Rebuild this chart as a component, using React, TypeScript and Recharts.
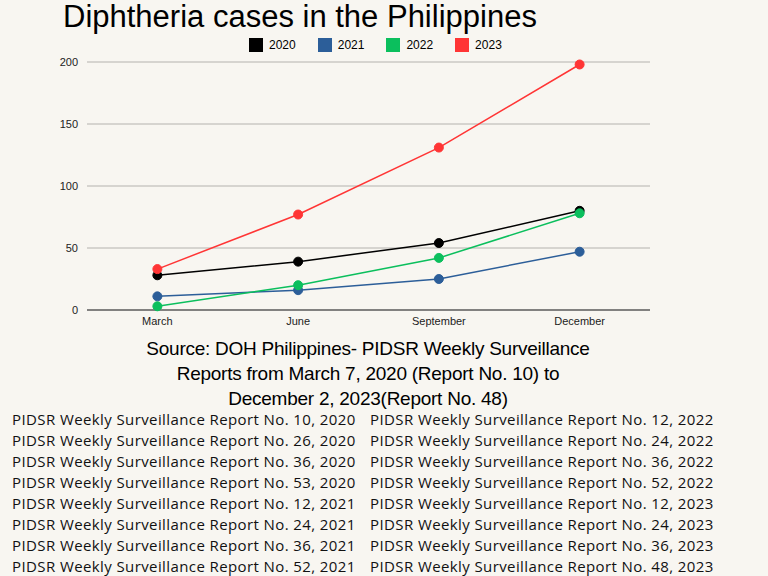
import React from "react";
import { LineChart, Line, XAxis, YAxis, CartesianGrid } from "recharts";

// Quarterly diphtheria case counts, by year
const months = ["March", "June", "September", "December"];
const cases2020 = [28, 39, 54, 80];
const cases2021 = [11, 16, 25, 47];
const cases2022 = [3, 20, 42, 78];
const cases2023 = [33, 77, 131, 198];
const yTicks = [0, 50, 100, 150, 200];

const seriesKeys = ["2020", "2021", "2022", "2023"];
const seriesColors: Record<string, string> = {
  "2020": "#000000",
  "2021": "#2c5e99",
  "2022": "#0bbf5d",
  "2023": "#ff3535",
};

const sourceLines = [
  "Source: DOH Philippines- PIDSR Weekly Surveillance",
  "Reports from March 7, 2020 (Report No. 10) to",
  "December 2, 2023(Report No. 48)",
];

const reportsLeft = [
  "PIDSR Weekly Surveillance Report No. 10, 2020",
  "PIDSR Weekly Surveillance Report No. 26, 2020",
  "PIDSR Weekly Surveillance Report No. 36, 2020",
  "PIDSR Weekly Surveillance Report No. 53, 2020",
  "PIDSR Weekly Surveillance Report No. 12, 2021",
  "PIDSR Weekly Surveillance Report No. 24, 2021",
  "PIDSR Weekly Surveillance Report No. 36, 2021",
  "PIDSR Weekly Surveillance Report No. 52, 2021",
];
const reportsRight = [
  "PIDSR Weekly Surveillance Report No. 12, 2022",
  "PIDSR Weekly Surveillance Report No. 24, 2022",
  "PIDSR Weekly Surveillance Report No. 36, 2022",
  "PIDSR Weekly Surveillance Report No. 52, 2022",
  "PIDSR Weekly Surveillance Report No. 12, 2023",
  "PIDSR Weekly Surveillance Report No. 24, 2023",
  "PIDSR Weekly Surveillance Report No. 36, 2023",
  "PIDSR Weekly Surveillance Report No. 48, 2023",
];

const data = months.map((m, i) => ({
  month: m,
  "2020": cases2020[i],
  "2021": cases2021[i],
  "2022": cases2022[i],
  "2023": cases2023[i],
}));

const BG = "#f8f6f1";
const sans = "'Liberation Sans', Arial, sans-serif";

export default function App() {
  return (
    <div
      style={{
        position: "absolute",
        left: 0,
        top: 0,
        width: 768,
        height: 576,
        background: BG,
        overflow: "hidden",
      }}
    >
      <div
        style={{
          position: "absolute",
          left: 63,
          top: 1,
          fontFamily: sans,
          fontSize: 31,
          lineHeight: "31px",
          color: "#000",
          whiteSpace: "nowrap",
        }}
      >
        Diphtheria cases in the Philippines
      </div>

      {/* legend */}
      <div
        style={{
          position: "absolute",
          left: 249,
          top: 38,
          display: "flex",
          fontFamily: sans,
          fontSize: 12,
          lineHeight: "14px",
        }}
      >
        {seriesKeys.map((k) => (
          <div key={k} style={{ display: "flex", alignItems: "center", marginRight: 22 }}>
            <div style={{ width: 14, height: 14, background: seriesColors[k], marginRight: 6 }} />
            <span>{k}</span>
          </div>
        ))}
      </div>

      <div style={{ position: "absolute", left: 0, top: 0 }}>
        <LineChart
          width={768}
          height={340}
          data={data}
          margin={{ top: 62, right: 118, bottom: 0, left: 47 }}
        >
          <CartesianGrid vertical={false} stroke="#b4b2ae" strokeWidth={1} />
          <XAxis
            dataKey="month"
            scale="band"
            height={30}
            tickSize={0}
            tickMargin={7}
            axisLine={{ stroke: "#666", strokeWidth: 1.5 }}
            tick={{ fontSize: 11, fill: "#222", fontFamily: sans }}
          />
          <YAxis
            width={40}
            domain={[0, 200]}
            ticks={yTicks}
            tickSize={0}
            tickMargin={9}
            axisLine={false}
            tick={{ fontSize: 11, fill: "#222", fontFamily: sans }}
          />
          {seriesKeys.map((k) => (
            <Line
              key={k}
              type="linear"
              dataKey={k}
              stroke={seriesColors[k]}
              strokeWidth={1.5}
              dot={{ r: 4.5, fill: seriesColors[k], stroke: seriesColors[k], strokeWidth: 1 }}
              isAnimationActive={false}
            />
          ))}
        </LineChart>
      </div>

      {/* source note */}
      <div
        style={{
          position: "absolute",
          left: 0,
          top: 336,
          width: 736,
          textAlign: "center",
          fontFamily: sans,
          fontSize: 19,
          letterSpacing: -0.25,
          lineHeight: "25px",
          color: "#000",
        }}
      >
        {sourceLines.map((s) => (
          <div key={s}>{s}</div>
        ))}
      </div>

      {/* report list */}
      {[reportsLeft, reportsRight].map((col, ci) => (
        <div
          key={ci}
          style={{
            position: "absolute",
            left: ci === 0 ? 12 : 370,
            top: 409,
            fontFamily: "'Open Sans', sans-serif",
            fontSize: 15,
            letterSpacing: 0.4,
            lineHeight: "21px",
            color: "#111",
            whiteSpace: "nowrap",
          }}
        >
          {col.map((r) => (
            <div key={r}>{r}</div>
          ))}
        </div>
      ))}
    </div>
  );
}
